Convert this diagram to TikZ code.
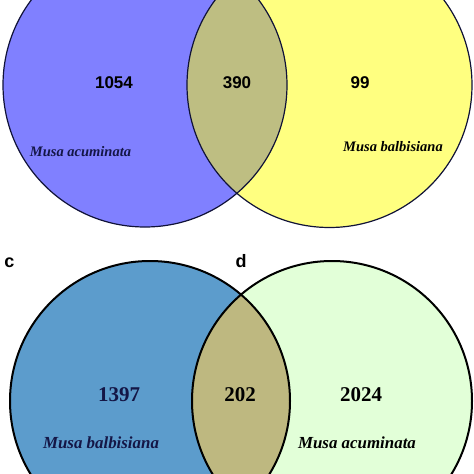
\documentclass[tikz,border=0pt]{standalone}
\usepackage{fontspec}
\setmainfont{Liberation Serif}
\setsansfont{Liberation Sans}
\definecolor{topleft}{RGB}{128,128,255}
\definecolor{topright}{RGB}{255,255,128}
\definecolor{topmid}{RGB}{190,190,130}
\definecolor{botleft}{RGB}{92,156,204}
\definecolor{botright}{RGB}{226,255,216}
\definecolor{botmid}{RGB}{190,184,128}
\definecolor{navy}{RGB}{20,22,70}
\tikzset{
  topnum/.style={font=\sffamily\bfseries\fontsize{17}{20}\selectfont, inner sep=0pt},
  botnum/.style={font=\rmfamily\bfseries\fontsize{21}{24}\selectfont, inner sep=0pt},
  toplab/.style={font=\rmfamily\bfseries\itshape\fontsize{14.5}{17}\selectfont, inner sep=0pt},
  botlab/.style={font=\rmfamily\bfseries\itshape\fontsize{16.9}{19}\selectfont, inner sep=0pt},
  panel/.style={font=\sffamily\bfseries\fontsize{18}{20}\selectfont, inner sep=0pt, anchor=base},
  topline/.style={draw=navy!80!black, line width=1.2pt},
  botline/.style={draw=black, line width=2pt}
}
\begin{document}
\begin{tikzpicture}[x=1pt,y=-1pt]
\useasboundingbox (0,0) rectangle (474,474);
\begin{scope}
\clip (0,0) rectangle (474,474);
% top venn
\fill[topleft] (145,85) circle[radius=142];
\fill[topright] (329.5,85) circle[radius=142.5];
\begin{scope}
\clip (145,85) circle[radius=142];
\fill[topmid] (329.5,85) circle[radius=142.5];
\end{scope}
\draw[topline] (145,85) circle[radius=142];
\draw[topline] (329.5,85) circle[radius=142.5];
% bottom venn
\fill[botleft] (150,401) circle[radius=140];
\fill[botright] (332,401) circle[radius=140];
\begin{scope}
\clip (150,401) circle[radius=140];
\fill[botmid] (332,401) circle[radius=140];
\end{scope}
\draw[botline] (150,401) circle[radius=140];
\draw[botline] (332,401) circle[radius=140];
\end{scope}
% top texts
\node[topnum] (a1) at (114,83) {1054};
\node[topnum] (a2) at (237,83) {390};
\node[topnum] (a3) at (360,83) {99};
\node[toplab, text=navy] (la) at (80.5,152) {Musa acuminata};
\node[toplab, text=black] (lb) at (393,147) {Musa balbisiana};
% panel labels
\node[panel] (pc) at (9.5,267) {c};
\node[panel] (pd) at (241,267) {d};
% bottom texts
\node[botnum, text=navy] (b1) at (119,395) {1397};
\node[botnum] (b2) at (240,395) {202};
\node[botnum] (b3) at (361,395) {2024};
\node[botlab, text=navy] (lc) at (101,443) {Musa balbisiana};
\node[botlab, text=black] (ld) at (357,443) {Musa acuminata};
\end{tikzpicture}
\end{document}
